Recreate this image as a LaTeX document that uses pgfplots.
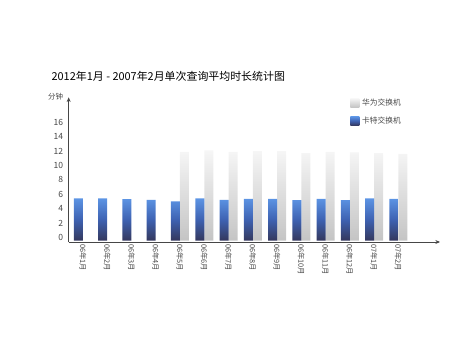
\documentclass[border=0pt]{standalone}
\usepackage{pgfplots}
\pgfplotsset{compat=1.18}
\usepackage{pgfplotstable}
\usepackage{fontspec}
\setmainfont{Noto Sans CJK SC}
\usetikzlibrary{arrows.meta}
\definecolor{bluetop}{RGB}{92,148,228}
\definecolor{bluemid}{RGB}{62,98,178}
\definecolor{bluebot}{RGB}{52,55,92}
\definecolor{greytop}{RGB}{246,246,246}
\definecolor{greybot}{RGB}{196,196,196}
\definecolor{axisgray}{RGB}{70,70,70}

\pgfplotstableread{
x y
0 5.85
1 5.85
2 5.75
3 5.65
4 5.45
5 5.85
6 5.65
7 5.80
8 5.80
9 5.60
10 5.80
11 5.60
12 5.85
13 5.80
}\kate

\pgfplotstableread{
x y
4 12.3
5 12.5
6 12.3
7 12.4
8 12.4
9 12.1
10 12.3
11 12.2
12 12.1
13 12.0
}\huawei

\begin{document}
\begin{tikzpicture}
\path[use as bounding box] (0,0) rectangle (355.5pt,267.75pt);
\node[anchor=west, font=\fontsize{8.2}{10}\selectfont, inner sep=0pt] at (38.5pt,210.75pt) {2012年1月 - 2007年2月单次查询平均时长统计图};
\node[anchor=east, font=\fontsize{5.6}{7}\selectfont, inner sep=0pt, text=axisgray] at (47.5pt,195.5pt) {分钟};
\begin{axis}[
  at={(51.5pt,86.25pt)}, anchor=south west,
  scale only axis, width=278.5pt, height=108.5pt,
  xmin=-0.59, xmax=14.72, ymin=-0.18, ymax=19.83,
  axis lines=left,
  axis line style={axisgray, line width=0.6pt, -{Stealth[length=3.5pt,width=3pt]}},
  major tick length=0pt,
  xtick={0,...,13},
  xticklabels={06年1月,06年2月,06年3月,06年4月,06年5月,06年6月,06年7月,06年8月,06年9月,06年10月,06年11月,06年12月,07年1月,07年2月},
  xticklabel style={rotate=-90, anchor=west, font=\fontsize{5.5}{6}\selectfont, text=axisgray, inner sep=1.5pt},
  ytick={0,2,...,16},
  yticklabel style={font=\fontsize{6.4}{7}\selectfont, text=axisgray, yshift=2.2pt, inner sep=1pt, xshift=-3pt},
  /pgf/number format/assume math mode=true,
  legend style={at={(0.758,1.012)}, anchor=north west, draw=none, fill=none,
    font=\fontsize{5.8}{7}\selectfont, text=axisgray, row sep=3.2pt, inner sep=0pt},
  legend cell align=left,
  legend image code/.code={\path[#1] (0pt,-3.4pt) rectangle (6.8pt,3.4pt);},
]
\addplot[ybar, bar width=6.75pt, bar shift=3.375pt, draw=none,
  top color=greytop, bottom color=greybot] table[x=x,y=y] {\huawei};
\addlegendentry{华为交换机}
\addplot[ybar, bar width=6.75pt, bar shift=-3.375pt, draw=none,
  top color=bluetop, bottom color=bluebot, middle color=bluemid] table[x=x,y=y] {\kate};
\addlegendentry{卡特交换机}
\end{axis}
\end{tikzpicture}
\end{document}
